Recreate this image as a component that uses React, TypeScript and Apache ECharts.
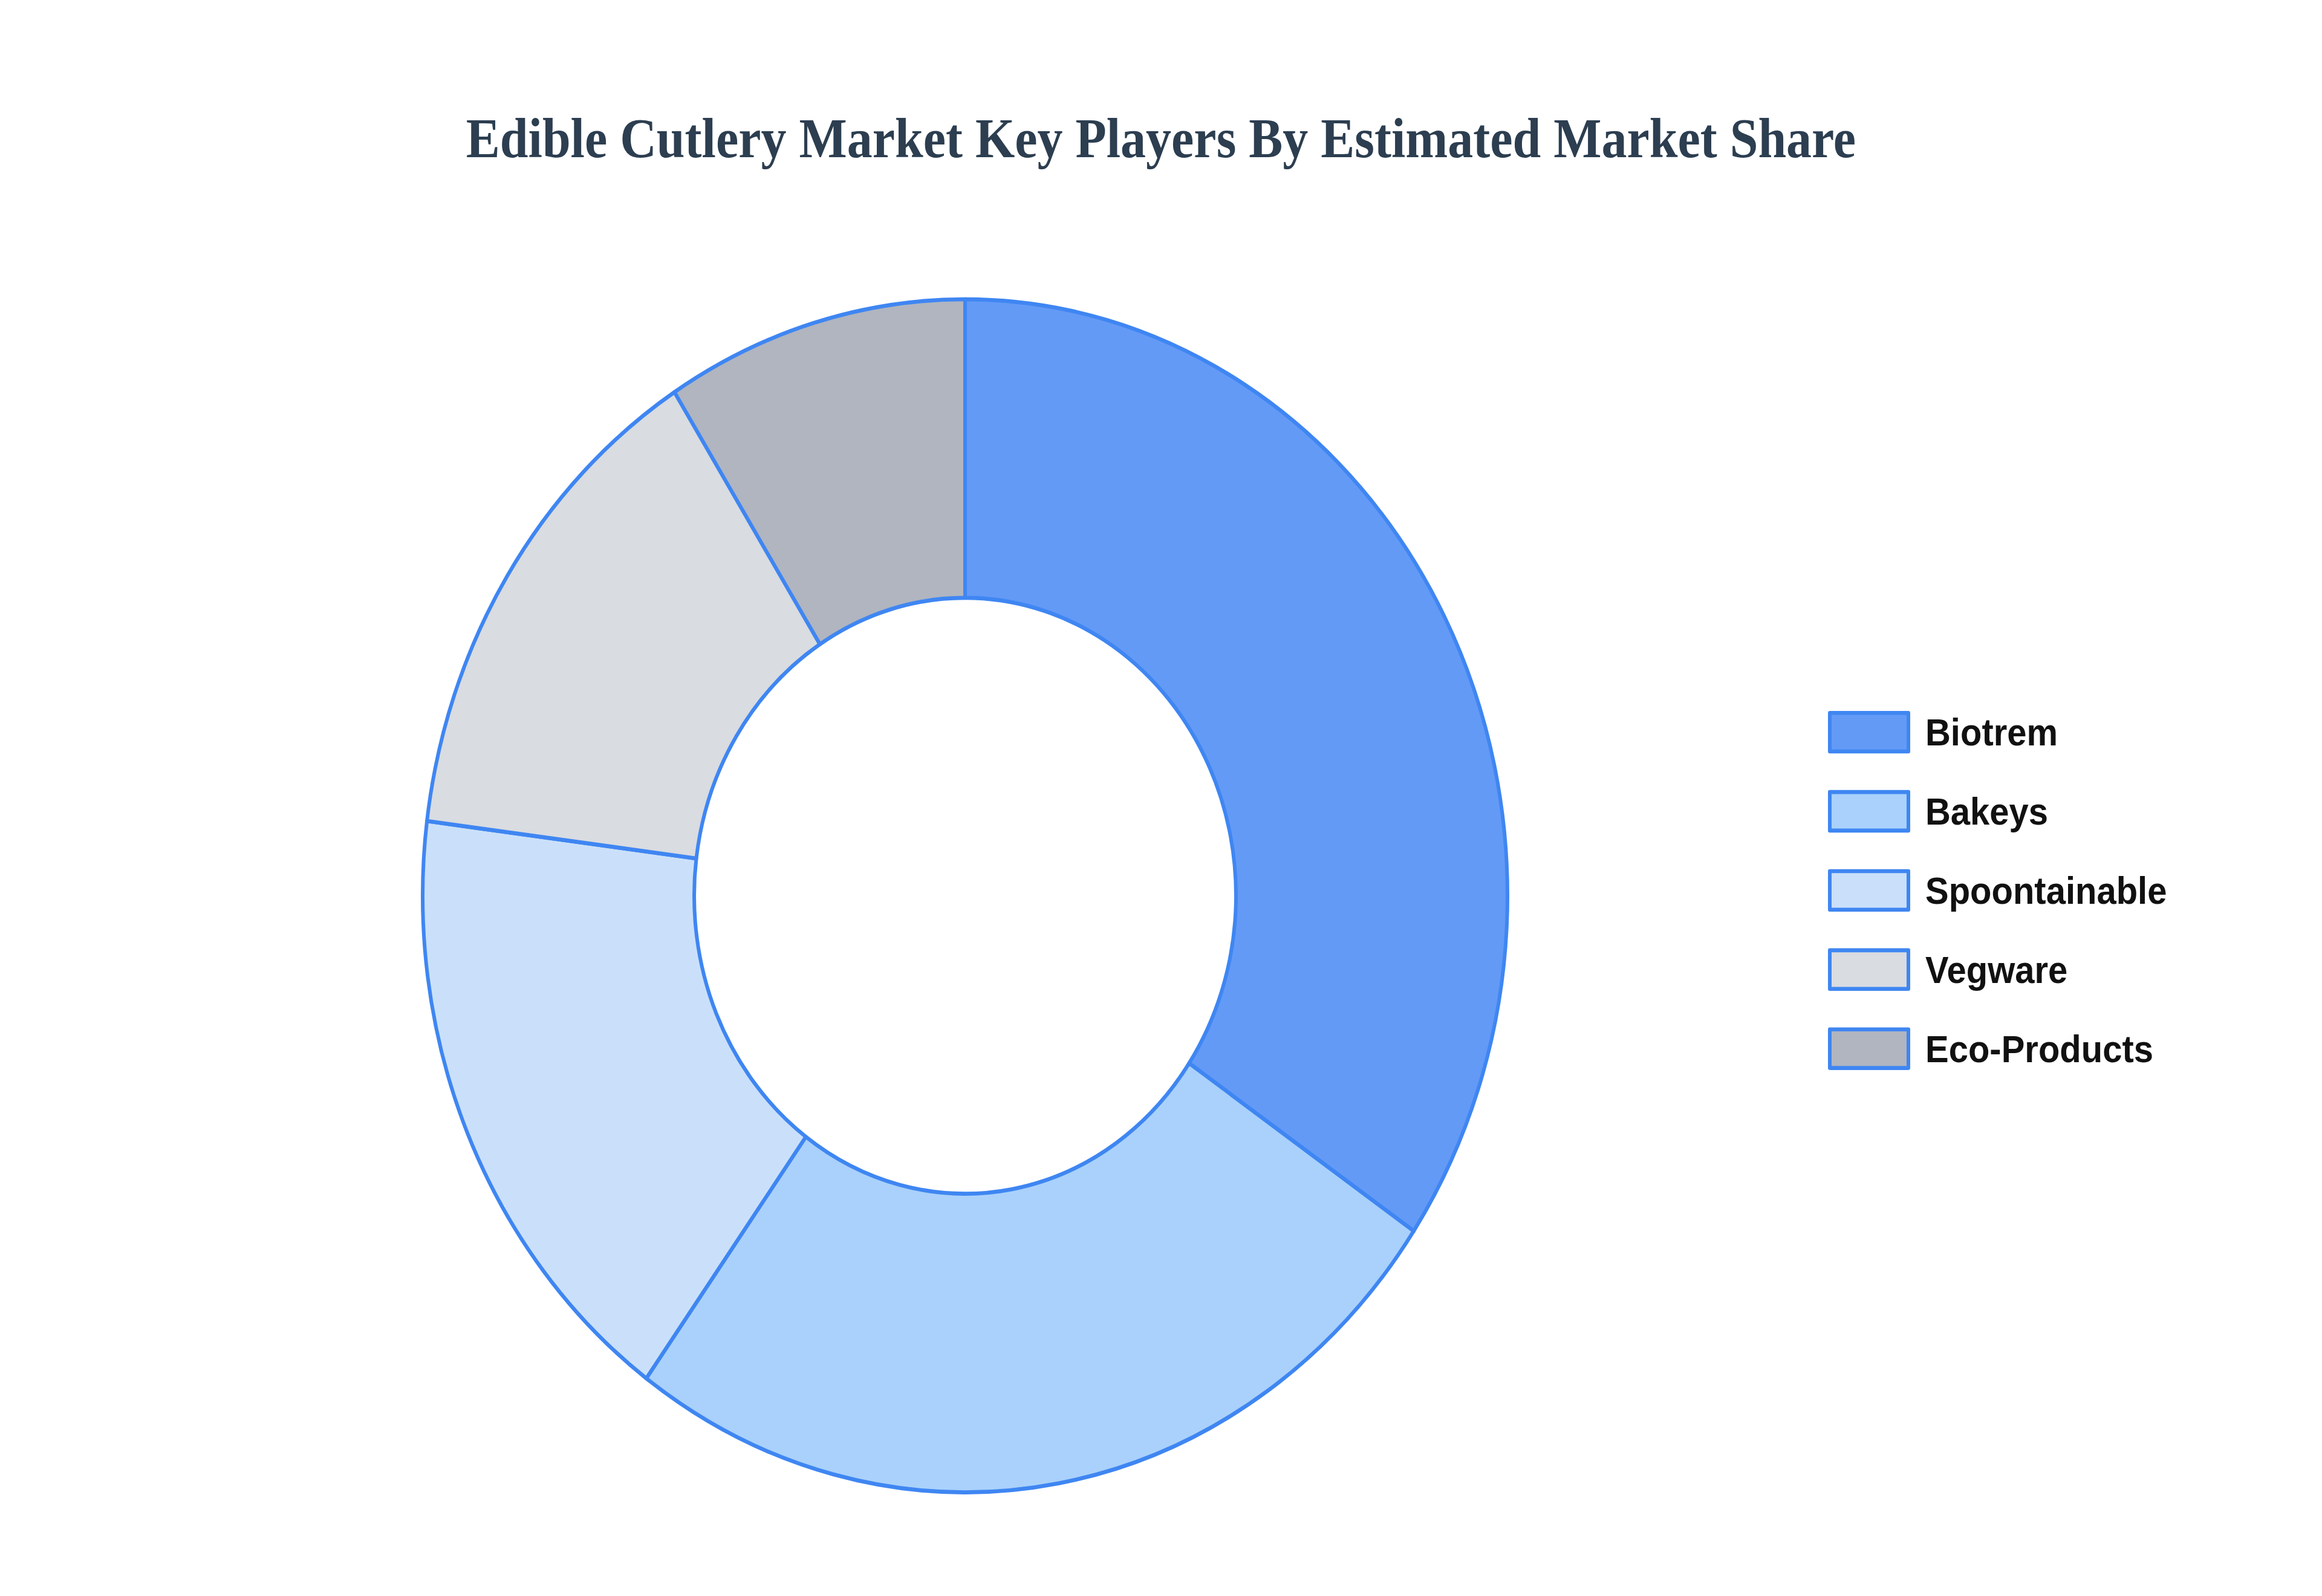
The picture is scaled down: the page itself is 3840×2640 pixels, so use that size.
import React, { useEffect, useRef } from 'react'
import * as echarts from 'echarts'

// estimated market share (%) per key player
const companies = ['Biotrem', 'Bakeys', 'Spoontainable', 'Vegware', 'Eco-Products']
const shares = [34.5, 25.5, 17, 14, 9]

const palette = ['#639AF6', '#A9D1FB', '#CAE0FA', '#D9DCE1', '#B0B5C0']
const edgeColor = '#3F86F2'

// the reference is stretched vertically, so the chart is drawn at 3840x2400 and scaled to 2640
const STRETCH = 1.1

const App: React.FC = () => {
  const chartRef = useRef<HTMLDivElement>(null)

  useEffect(() => {
    document.body.style.margin = '0'
    if (!chartRef.current) return
    const chart = echarts.init(chartRef.current, undefined, { renderer: 'svg' })

    const option: echarts.EChartsOption = {
      animation: false,
      backgroundColor: '#ffffff',
      title: {
        text: 'Edible Cutlery Market Key Players By Estimated Market Share',
        left: 'center',
        top: 161,
        textStyle: {
          fontFamily: '"Liberation Serif", "Times New Roman", serif',
          fontWeight: 'bold',
          fontSize: 84,
          lineHeight: 84,
          color: '#2C3E50'
        }
      },
      legend: {
        orient: 'vertical',
        left: 3018,
        top: 1064,
        icon: 'rect',
        itemWidth: 130,
        itemHeight: 58,
        itemGap: 55,
        itemStyle: { borderColor: edgeColor, borderWidth: 6 },
        textStyle: {
          fontFamily: '"Liberation Sans", Arial, sans-serif',
          fontWeight: 'bold',
          fontSize: 58,
          lineHeight: 58,
          color: '#111111',
          padding: [0, 0, 0, 23]
        },
        data: companies
      },
      series: [
        {
          type: 'pie',
          center: [1596, 1347],
          radius: [448, 897],
          startAngle: 90,
          clockwise: true,
          label: { show: false },
          labelLine: { show: false },
          emphasis: { disabled: true },
          itemStyle: { borderColor: edgeColor, borderWidth: 6 },
          data: companies.map((name, i) => ({
            name,
            value: shares[i],
            itemStyle: { color: palette[i] }
          }))
        }
      ]
    }

    chart.setOption(option)
    return () => {
      chart.dispose()
    }
  }, [])

  return (
    <div style={{ width: 3840, height: 2640, overflow: 'hidden', background: '#fff' }}>
      <div
        ref={chartRef}
        style={{
          width: 3840,
          height: 2400,
          transform: `scaleY(${STRETCH})`,
          transformOrigin: 'top left'
        }}
      />
    </div>
  )
}

export default App
